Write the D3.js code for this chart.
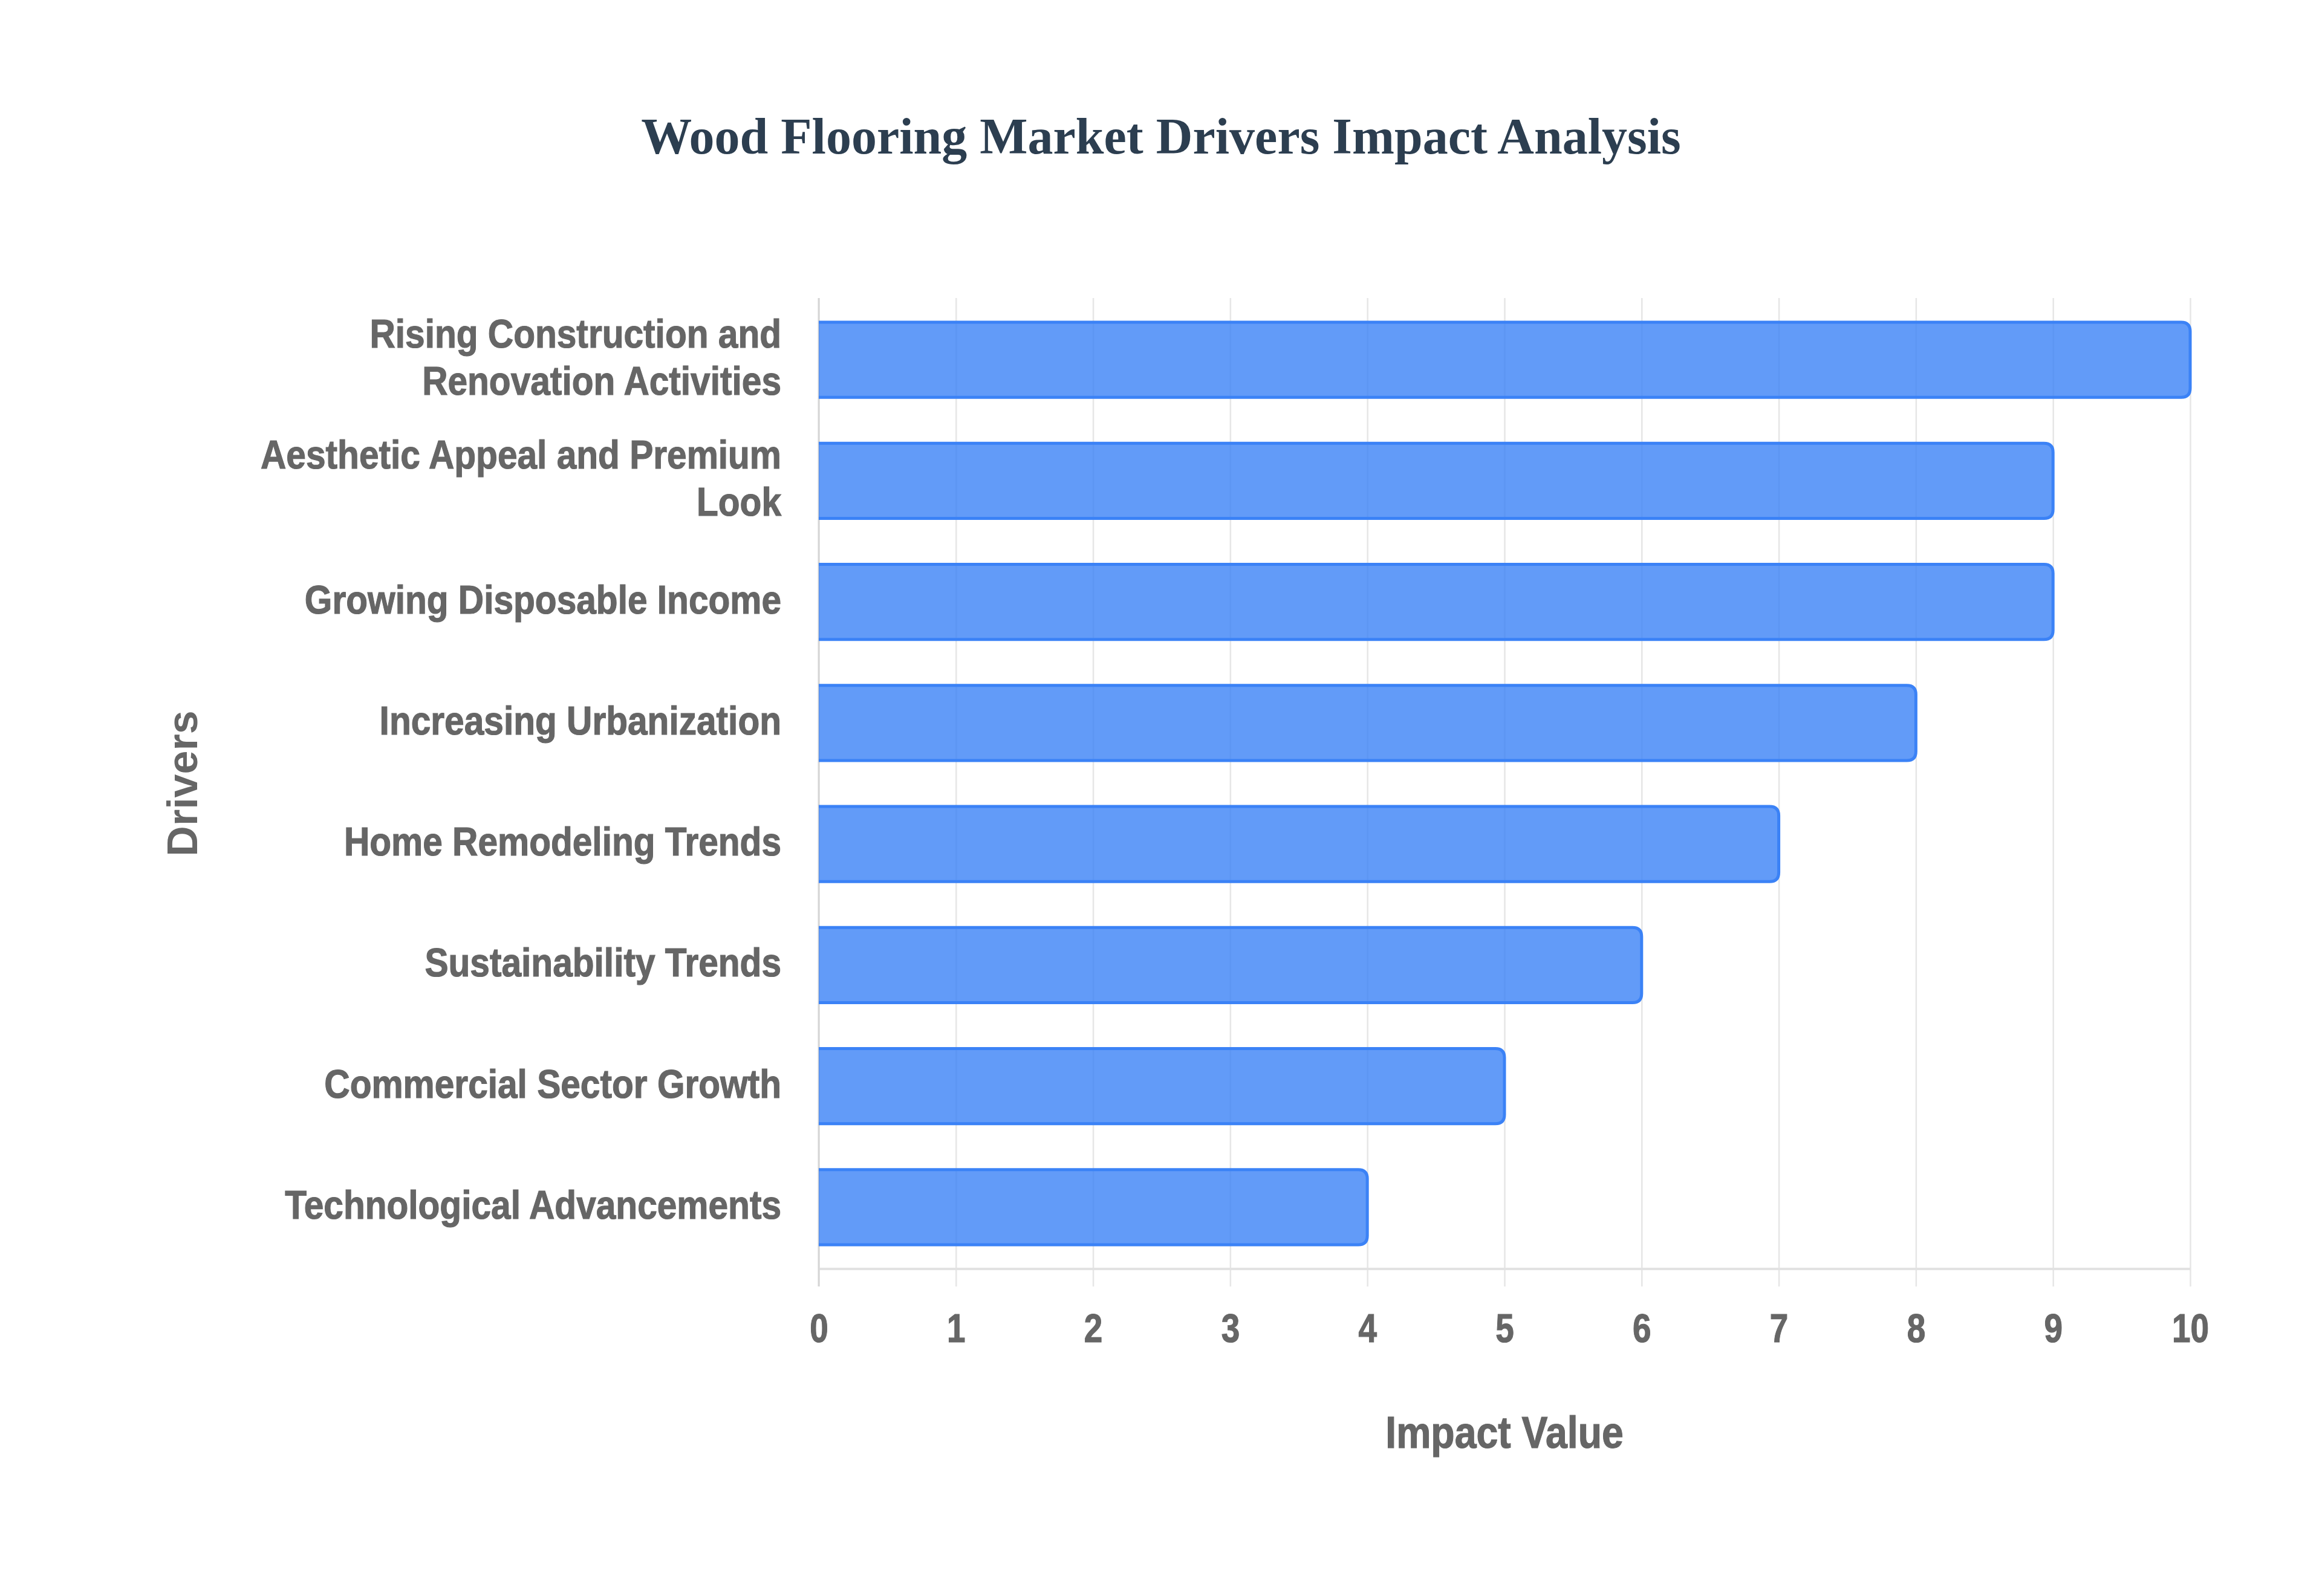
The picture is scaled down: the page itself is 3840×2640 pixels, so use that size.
<!DOCTYPE html>
<html>
<head>
<meta charset="utf-8">
<script src="https://cdn.jsdelivr.net/npm/d3@7"></script>
<style>
  body { margin: 0; background: #ffffff; }
</style>
</head>
<body>
<script>
// chart data
var drivers = [
    "Rising Construction and Renovation Activities",
    "Aesthetic Appeal and Premium Look",
    "Growing Disposable Income",
    "Increasing Urbanization",
    "Home Remodeling Trends",
    "Sustainability Trends",
    "Commercial Sector Growth",
    "Technological Advancements"
];
// how each label is broken over lines
var driverLines = [
    ["Rising Construction and", "Renovation Activities"],
    ["Aesthetic Appeal and Premium", "Look"],
    ["Growing Disposable Income"],
    ["Increasing Urbanization"],
    ["Home Remodeling Trends"],
    ["Sustainability Trends"],
    ["Commercial Sector Growth"],
    ["Technological Advancements"]
];
var impactValues = [10, 9, 9, 8, 7, 6, 5, 4];
var xTicks = [0, 1, 2, 3, 4, 5, 6, 7, 8, 9, 10];

var titleText = "Wood Flooring Market Drivers Impact Analysis";
var xTitle = "Impact Value";
var yTitle = "Drivers";

//Width and height
var W = 3840, H = 2640;
var margin = {top: 493, right: 218, bottom: 541, left: 1354};
var width = W - margin.left - margin.right;
var height = H - margin.top - margin.bottom;

var sans = "'Liberation Sans', Arial, Helvetica, sans-serif";
var textColor = "#666666";

var svg = d3.select("body")
    .append("svg")
    .attr("width", W)
    .attr("height", H)
    .style("display", "block");

svg.append("rect").attr("width", W).attr("height", H).attr("fill", "#ffffff");

// title
svg.append("text")
    .attr("x", W / 2)
    .attr("y", 254)
    .attr("text-anchor", "middle")
    .attr("font-family", "'Liberation Serif', 'Times New Roman', serif")
    .attr("font-weight", "bold")
    .attr("font-size", 84)
    .attr("fill", "#2c3e50")
    .text(titleText);

var g = svg.append("g")
    .attr("transform", "translate(" + margin.left + "," + margin.top + ")");

//scales
var xScale = d3.scaleLinear().domain([0, 10]).range([0, width]);
var yScale = d3.scaleBand()
    .domain(drivers)
    .range([0, height])
    .paddingInner(0.38)
    .paddingOuter(0.2);

// x axis: gridlines run from plot top down past the axis line
var tickOver = 29;
var xAxis = d3.axisBottom(xScale)
    .tickValues(xTicks)
    .tickFormat(d3.format("d"))
    .tickSize(height + tickOver)
    .tickPadding(44);

var xAxisGroup = g.append("g").attr("class", "x-axis").call(xAxis);
xAxisGroup.select(".domain").remove();
xAxisGroup.selectAll(".tick line")
    .attr("stroke", "#e6e6e6")
    .attr("stroke-width", 2.5);
xAxisGroup.selectAll(".tick text")
    .attr("fill", textColor)
    .attr("stroke", textColor)
    .attr("stroke-width", 1.2)
    .attr("font-family", sans)
    .attr("font-weight", "bold")
    .attr("font-size", 67)
    .attr("transform", "scale(0.82,1)");

// axis border lines
g.append("line")
    .attr("x1", 0).attr("x2", width)
    .attr("y1", height).attr("y2", height)
    .attr("stroke", "#e2e2e2")
    .attr("stroke-width", 4);
g.append("line")
    .attr("x1", 0).attr("x2", 0)
    .attr("y1", 0).attr("y2", height + tickOver)
    .attr("stroke", "#d6d6d6")
    .attr("stroke-width", 3);

// bars with rounded right end, no border on the base side
function barPath(w, h, r) {
    r = Math.min(r, w / 2, h / 2);
    return "M0,0H" + (w - r) + "Q" + w + ",0 " + w + "," + r +
        "V" + (h - r) + "Q" + w + "," + h + " " + (w - r) + "," + h + "H0";
}

g.selectAll(".bar")
    .data(drivers)
    .enter()
    .append("path")
    .attr("class", "bar")
    .attr("transform", function(d) { return "translate(" + xScale(0) + "," + yScale(d) + ")"; })
    .attr("d", function(d, i) {
        return barPath(xScale(impactValues[i]) - xScale(0), yScale.bandwidth(), 15);
    })
    .attr("fill", "rgba(59,130,246,0.8)")
    .attr("stroke", "#3b82f6")
    .attr("stroke-width", 5)
    .attr("stroke-linejoin", "round");

// category labels
var lineGap = 78;
var labels = g.selectAll(".ylabel")
    .data(drivers)
    .enter()
    .append("text")
    .attr("class", "ylabel")
    .attr("transform", function(d) {
        return "translate(-62," + (yScale(d) + yScale.bandwidth() / 2 + 19) + ") scale(0.875,1)";
    })
    .attr("text-anchor", "end")
    .attr("fill", textColor)
    .attr("stroke", textColor)
    .attr("stroke-width", 1.2)
    .attr("font-family", sans)
    .attr("font-weight", "bold")
    .attr("font-size", 67);

labels.each(function(d, i) {
    var lines = driverLines[i];
    var off = -(lines.length - 1) * lineGap / 2;
    var t = d3.select(this);
    lines.forEach(function(line, k) {
        t.append("tspan")
            .attr("x", 0)
            .attr("y", off + k * lineGap)
            .text(line);
    });
});

// axis titles
svg.append("text")
    .attr("transform", "translate(" + (margin.left + width / 2) + ",2395) scale(0.87,1)")
    .attr("text-anchor", "middle")
    .attr("fill", textColor)
    .attr("stroke", textColor)
    .attr("stroke-width", 1.2)
    .attr("font-family", sans)
    .attr("font-weight", "bold")
    .attr("font-size", 74)
    .text(xTitle);

svg.append("text")
    .attr("transform", "translate(326," + (margin.top + height / 2) + ") rotate(-90)")
    .attr("text-anchor", "middle")
    .attr("fill", textColor)
    .attr("font-family", sans)
    .attr("font-weight", "bold")
    .attr("font-size", 70)
    .text(yTitle);
</script>
</body>
</html>
